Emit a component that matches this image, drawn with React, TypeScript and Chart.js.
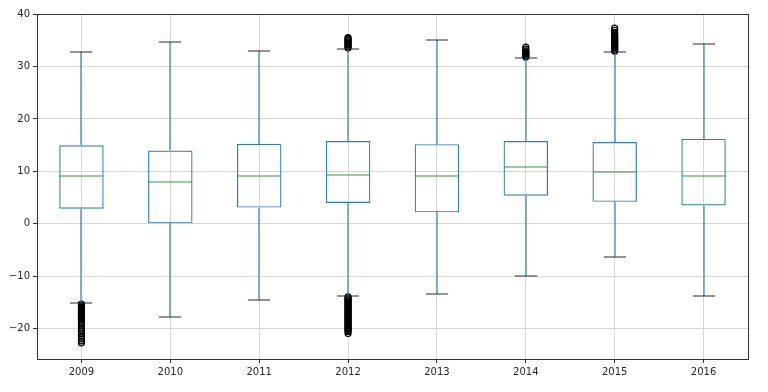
import React, { useEffect, useRef } from "react";
import { Chart, registerables } from "chart.js";

Chart.register(...registerables);

const years = ["2009", "2010", "2011", "2012", "2013", "2014", "2015", "2016"];
const lowerWhisker = [-15.1, -17.7, -14.6, -13.7, -13.4, -9.95, -6.3, -13.65];
const q1 = [2.9, 0.1, 3.1, 4.0, 2.2, 5.35, 4.2, 3.5];
const medians = [9.2, 8.0, 9.2, 9.35, 9.2, 10.75, 9.95, 9.2];
const q3 = [15.0, 14.0, 15.25, 15.8, 15.2, 15.8, 15.6, 16.2];
const upperWhisker = [32.75, 34.7, 32.9, 33.3, 35.0, 31.6, 32.7, 34.3];

const outliers2009 = [-15.3, -15.5, -15.7, -15.9, -16.1, -16.3, -16.5, -16.7, -16.9, -17.1, -17.3, -17.5, -17.7, -17.9, -18.1, -18.3, -18.6, -18.9, -19.3, -19.7, -20.1, -20.5, -20.9, -21.4, -21.9, -22.3, -22.7];
const outliers2012Low = [-13.9, -14.1, -14.3, -14.5, -14.7, -14.9, -15.1, -15.3, -15.5, -15.7, -15.9, -16.1, -16.3, -16.5, -16.7, -16.9, -17.1, -17.3, -17.5, -17.7, -17.9, -18.1, -18.3, -18.5, -18.7, -18.9, -19.1, -19.3, -19.5, -19.7, -19.9, -20.1, -20.3, -20.5, -20.9];
const outliers2012High = [33.5, 33.7, 33.9, 34.1, 34.3, 34.5, 34.7, 34.9, 35.1, 35.3, 35.5];
const outliers2014 = [31.8, 32.0, 32.2, 32.4, 32.6, 32.8, 33.0, 33.3, 33.7];
const outliers2015 = [32.9, 33.1, 33.3, 33.5, 33.7, 33.9, 34.1, 34.3, 34.5, 34.7, 34.9, 35.1, 35.3, 35.5, 35.7, 35.9, 36.2, 36.5, 36.9, 37.3];

const yTicks = [-20, -10, 0, 10, 20, 30, 40];
const yMin = -25.75;
const yMax = 40;

const boxParts = {
  id: "boxParts",
  afterDatasetsDraw(chart: any) {
    const { ctx, scales } = chart;
    const x = scales.x;
    const y = scales.y;
    const meta = chart.getDatasetMeta(0);
    ctx.save();
    ctx.lineWidth = 1.15;
    years.forEach((_, i) => {
      const cx = Math.round(x.getPixelForValue(i));
      const bar: any = meta.data[i];
      const half = bar.width / 2;
      const capHalf = half / 2;
      const py = (v: number) => Math.round(y.getPixelForValue(v));
      // whiskers
      ctx.strokeStyle = "#2a7cc0";
      ctx.beginPath();
      ctx.moveTo(cx, py(q3[i]));
      ctx.lineTo(cx, py(upperWhisker[i]));
      ctx.moveTo(cx, py(q1[i]));
      ctx.lineTo(cx, py(lowerWhisker[i]));
      ctx.stroke();
      // caps
      ctx.strokeStyle = "#2b2b2b";
      ctx.beginPath();
      ctx.moveTo(cx - capHalf, py(upperWhisker[i]));
      ctx.lineTo(cx + capHalf, py(upperWhisker[i]));
      ctx.moveTo(cx - capHalf, py(lowerWhisker[i]));
      ctx.lineTo(cx + capHalf, py(lowerWhisker[i]));
      ctx.stroke();
      // median
      ctx.strokeStyle = "#2ca02c";
      ctx.beginPath();
      ctx.moveTo(cx - half, py(medians[i]));
      ctx.lineTo(cx + half, py(medians[i]));
      ctx.stroke();
    });
    ctx.restore();
  },
  afterDraw(chart: any) {
    const { ctx, chartArea } = chart;
    ctx.save();
    ctx.strokeStyle = "#333";
    ctx.lineWidth = 1;
    ctx.strokeRect(
      Math.round(chartArea.left) + 0.5,
      Math.round(chartArea.top) + 0.5,
      Math.round(chartArea.right - chartArea.left),
      Math.round(chartArea.bottom - chartArea.top)
    );
    ctx.restore();
  },
};

export default function App() {
  const ref = useRef<HTMLCanvasElement>(null);
  useEffect(() => {
    if (!ref.current) return;
    const outlierPoints = [
      ...outliers2009.map((v) => ({ x: "2009", y: v })),
      ...outliers2012Low.map((v) => ({ x: "2012", y: v })),
      ...outliers2012High.map((v) => ({ x: "2012", y: v })),
      ...outliers2014.map((v) => ({ x: "2014", y: v })),
      ...outliers2015.map((v) => ({ x: "2015", y: v })),
    ];
    const chart = new Chart(ref.current, {
      type: "bar",
      data: {
        labels: years,
        datasets: [
          {
            type: "bar",
            data: years.map((_, i) => [q1[i], q3[i]]) as any,
            backgroundColor: "rgba(0,0,0,0)",
            borderColor: "#2a7cc0",
            borderWidth: 1.2,
            borderSkipped: false,
            barPercentage: 0.5,
            categoryPercentage: 1,
          } as any,
          {
            type: "line",
            data: outlierPoints as any,
            showLine: false,
            pointStyle: "circle",
            pointRadius: 3,
            pointBorderWidth: 1.2,
            pointBorderColor: "#000",
            pointBackgroundColor: "rgba(0,0,0,0)",
          } as any,
        ],
      },
      options: {
        responsive: false,
        animation: false,
        devicePixelRatio: 1,
        layout: { padding: { top: 14, right: 20, left: 0, bottom: 0 } },
        plugins: { legend: { display: false }, tooltip: { enabled: false } },
        scales: {
          x: {
            type: "category",
            offset: true,
            grid: {
              offset: false,
              color: "#d6d6d6",
              tickColor: "#333",
              tickLength: 4,
            },
            border: { display: false },
            ticks: {
              color: "#262626",
              font: { family: "DejaVu Sans", size: 10 },
              padding: 3,
              maxRotation: 0,
            },
            afterFit: (s: any) => {
              s.height = 33;
            },
          },
          y: {
            type: "linear",
            min: yMin,
            max: yMax,
            grid: {
              color: "#d6d6d6",
              tickColor: "#333",
              tickLength: 4,
            },
            border: { display: false },
            ticks: {
              color: "#262626",
              font: { family: "DejaVu Sans", size: 10 },
              padding: 3,
              callback: (v: any) => (Number(v) < 0 ? "\u2212" + Math.abs(Number(v)) : String(v)),
            },
            afterBuildTicks: (s: any) => {
              s.ticks = yTicks.map((v) => ({ value: v }));
            },
            afterFit: (s: any) => {
              s.width = 37;
            },
          },
        },
      },
      plugins: [boxParts],
    });
    return () => chart.destroy();
  }, []);
  return (
    <div style={{ position: "fixed", left: 0, top: 0, width: 768, height: 392, background: "#fff" }}>
      <canvas ref={ref} width={768} height={392} />
    </div>
  );
}
